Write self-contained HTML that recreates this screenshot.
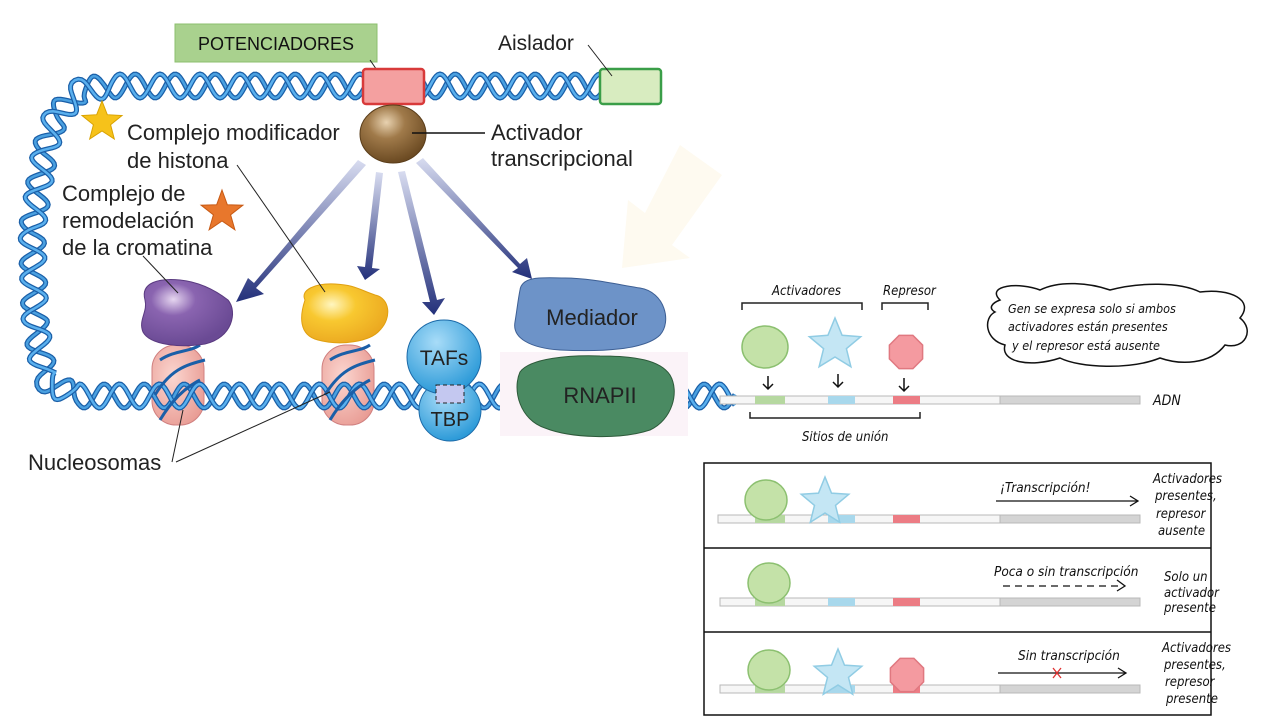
<!DOCTYPE html>
<html><head><meta charset="utf-8">
<style>
html,body{margin:0;padding:0;background:#fff;}
svg{display:block}
.lab{font-family:"Liberation Sans Narrow","Liberation Sans",sans-serif;fill:#222;}
.hw{font-family:"DejaVu Sans Condensed","DejaVu Sans",sans-serif;font-style:italic;fill:#111;}
</style></head><body>
<svg id="s" width="1280" height="720" viewBox="0 0 1280 720" xmlns="http://www.w3.org/2000/svg">
<defs>
<linearGradient id="ag" x1="0" y1="0" x2="0" y2="1"><stop offset="0" stop-color="#d8dcf0"/><stop offset="1" stop-color="#23307a"/></linearGradient>
<radialGradient id="brown" cx="0.4" cy="0.3" r="0.7"><stop offset="0" stop-color="#e8d2b0"/><stop offset="0.4" stop-color="#a07a4a"/><stop offset="1" stop-color="#6b4a22"/></radialGradient>
<radialGradient id="purple" cx="0.35" cy="0.3" r="0.7"><stop offset="0" stop-color="#e6d6f0"/><stop offset="0.35" stop-color="#8a64b0"/><stop offset="1" stop-color="#6a4a94"/></radialGradient>
<radialGradient id="yellow" cx="0.35" cy="0.35" r="0.7"><stop offset="0" stop-color="#fff6c0"/><stop offset="0.4" stop-color="#f8c830"/><stop offset="1" stop-color="#eba820"/></radialGradient>
<radialGradient id="blue" cx="0.4" cy="0.3" r="0.7"><stop offset="0" stop-color="#a8dcf8"/><stop offset="1" stop-color="#2c9ad8"/></radialGradient>
<radialGradient id="pink" cx="0.4" cy="0.4" r="0.7"><stop offset="0" stop-color="#fbd6d0"/><stop offset="1" stop-color="#e89a92"/></radialGradient>
</defs>
<polygon points="680,145 722,175 672,245 690,258 622,268 628,200 645,213" fill="#fefaf0"/>
<!-- nucleosomes -->
<rect x="152" y="345" width="52" height="80" rx="24" fill="url(#pink)" stroke="#d08080"/>
<rect x="322" y="345" width="52" height="80" rx="24" fill="url(#pink)" stroke="#d08080"/>
<g id="dna"></g>
<g stroke="#1a5fa8" stroke-width="3" fill="none">
<path d="M160,360 C175,350 190,352 200,345"/><path d="M155,395 C170,370 185,365 205,360"/><path d="M160,420 C175,395 190,385 200,380"/>
<path d="M330,360 C345,350 360,352 370,345"/><path d="M325,395 C340,370 355,365 375,360"/><path d="M330,420 C345,395 360,385 370,380"/>
</g>
<rect x="175" y="24" width="202" height="38" fill="#a9d18e" stroke="#8cbf6e"/>
<text x="276" y="50" text-anchor="middle" font-family="Liberation Sans,sans-serif" font-size="18" fill="#111">POTENCIADORES</text>
<line x1="370" y1="60" x2="383" y2="79" stroke="#222"/>
<rect x="363" y="69" width="61" height="35" rx="3" fill="#f4a0a0" stroke="#d83a3a" stroke-width="2.5"/>
<rect x="600" y="69" width="61" height="35" rx="3" fill="#d8ecc0" stroke="#3a9e48" stroke-width="2.5"/>
<text x="498" y="50" class="lab" font-size="21">Aislador</text>
<line x1="588" y1="45" x2="612" y2="76" stroke="#222"/>
<ellipse cx="393" cy="134" rx="33" ry="29" fill="url(#brown)" stroke="#5a3d1a"/>
<line x1="412" y1="133" x2="485" y2="133" stroke="#111" stroke-width="1.5"/>
<text x="491" y="140" class="lab" font-size="22">Activador</text>
<text x="491" y="166" class="lab" font-size="22">transcripcional</text>
<polygon id="ys" fill="#f6c21a" stroke="#d9a200" points=""/>
<polygon id="os" fill="#e8772c" stroke="#c85a14" points=""/>
<text x="127" y="140" class="lab" font-size="22">Complejo modificador</text>
<text x="127" y="168" class="lab" font-size="22">de histona</text>
<text x="62" y="201" class="lab" font-size="22">Complejo de</text>
<text x="62" y="228" class="lab" font-size="22">remodelación</text>
<text x="62" y="255" class="lab" font-size="22">de la cromatina</text>
<g fill="url(#ag)">
<polygon points="358,160 366,165 256,288 264,294 236,302 248,278 254,283"/>
<polygon points="376,172 383,173 372,268 380,269 365,280 357,266 365,267"/>
<polygon points="398,172 405,171 437,300 445,298 434,315 422,302 430,302"/>
<polygon points="416,163 423,158 520,264 527,258 532,279 512,272 518,268"/>
</g>
<path d="M145,300 C140,282 160,278 180,280 C200,282 215,290 228,300 C238,312 232,338 205,344 C180,348 150,345 143,332 C138,320 148,312 145,300Z" fill="url(#purple)" stroke="#5a3a80"/>
<path d="M305,300 C300,290 315,283 335,284 C355,285 360,290 375,295 C390,298 392,318 380,330 C370,342 340,346 318,340 C298,335 300,315 305,300Z" fill="url(#yellow)" stroke="#e0a010"/>
<path d="M520,290 C522,275 545,278 565,278 C590,278 620,285 640,288 C665,292 672,322 660,335 C645,350 600,352 560,350 C530,348 512,338 515,322 C517,310 518,300 520,290Z" fill="#6d93c8" stroke="#3d5f94"/>
<text x="592" y="325" text-anchor="middle" class="lab" font-size="22">Mediador</text>
<rect x="500" y="352" width="188" height="84" fill="#fbf3f8"/>
<path d="M520,372 C530,358 570,355 600,356 C635,356 660,360 670,375 C680,392 672,420 650,430 C620,440 570,438 545,428 C520,420 512,390 520,372Z" fill="#4a8a62" stroke="#2d5a3a"/>
<text x="600" y="403" text-anchor="middle" class="lab" font-size="22">RNAPII</text>
<circle cx="450" cy="410" r="31" fill="url(#blue)" stroke="#1c6aa8"/>
<circle cx="444" cy="357" r="37" fill="url(#blue)" stroke="#1c6aa8"/>
<rect x="436" y="385" width="28" height="18" fill="#c4c8f0" stroke="#222" stroke-dasharray="4,3"/>
<text x="444" y="365" text-anchor="middle" class="lab" font-size="21">TAFs</text>
<text x="450" y="426" text-anchor="middle" class="lab" font-size="20">TBP</text>
<line x1="237" y1="165" x2="325" y2="292" stroke="#222"/>
<line x1="143" y1="256" x2="178" y2="293" stroke="#222"/>
<line x1="172" y1="462" x2="183" y2="410" stroke="#222"/>
<line x1="176" y1="462" x2="330" y2="392" stroke="#222"/>
<text x="28" y="470" class="lab" font-size="22">Nucleosomas</text>
<g id="right"></g>
</svg>
<script>
function star(cx,cy,R,r){let p=[];for(let i=0;i<10;i++){let a=-Math.PI/2+i*Math.PI/5,rr=i%2?r:R;p.push((cx+rr*Math.cos(a)).toFixed(1)+","+(cy+rr*Math.sin(a)).toFixed(1));}return p.join(" ");}
document.getElementById('ys').setAttribute('points',star(102,122,21,9));
document.getElementById('os').setAttribute('points',star(222,212,22,9));
const ctrl=[[610,86],[110,86],[80,90],[55,118],[45,150],[32,230],[35,320],[45,380],[75,396],[735,396]];
let pts=[];
for(let i=0;i<ctrl.length-1;i++){let [x1,y1]=ctrl[i],[x2,y2]=ctrl[i+1];let d=Math.hypot(x2-x1,y2-y1),n=Math.ceil(d/2);for(let j=0;j<n;j++){pts.push([x1+(x2-x1)*j/n,y1+(y2-y1)*j/n]);}}
pts.push(ctrl[ctrl.length-1]);
for(let k=0;k<6;k++){pts=pts.map((p,i)=>i==0||i==pts.length-1?p:[(pts[i-1][0]+p[0]*2+pts[i+1][0])/4,(pts[i-1][1]+p[1]*2+pts[i+1][1])/4]);}
let s=0,A=12,per=40;let a1="",a2="";
for(let i=0;i<pts.length;i++){let j=Math.min(i+1,pts.length-1),h=Math.max(i-1,0);let dx=pts[j][0]-pts[h][0],dy=pts[j][1]-pts[h][1],L=Math.hypot(dx,dy)||1;let nx=-dy/L,ny=dx/L;if(i>0)s+=Math.hypot(pts[i][0]-pts[i-1][0],pts[i][1]-pts[i-1][1]);
let o1=A*Math.sin(s*2*Math.PI/per),o2=A*Math.sin(s*2*Math.PI/per+2.4);
a1+=(i?"L":"M")+(pts[i][0]+nx*o1).toFixed(1)+","+(pts[i][1]+ny*o1).toFixed(1);
a2+=(i?"L":"M")+(pts[i][0]+nx*o2).toFixed(1)+","+(pts[i][1]+ny*o2).toFixed(1);}
document.getElementById('dna').innerHTML=`<path d="${a2}" fill="none" stroke="#1a5fa8" stroke-width="5"/><path d="${a2}" fill="none" stroke="#4aa0e0" stroke-width="2.5"/><path d="${a1}" fill="none" stroke="#1a5fa8" stroke-width="5"/><path d="${a1}" fill="none" stroke="#5ab0ee" stroke-width="2.5"/>`;
function oct(cx,cy,r){let p=[];for(let i=0;i<8;i++){let a=Math.PI/8+i*Math.PI/4;p.push((cx+r*Math.cos(a)).toFixed(1)+","+(cy+r*Math.sin(a)).toFixed(1));}return p.join(" ");}
function bar(y,x0){x0=x0||720;return `<rect x="${x0}" y="${y}" width="${1000-x0}" height="8" fill="#f6f6f6" stroke="#b8b8b8"/><rect x="1000" y="${y}" width="140" height="8" fill="#d4d4d4" stroke="#b8b8b8"/>`+
`<rect x="755" y="${y}" width="30" height="8" fill="#b6d8a0"/><rect x="828" y="${y}" width="27" height="8" fill="#a8d8ec"/><rect x="893" y="${y}" width="27" height="8" fill="#ec7c84"/>`;}
const G="fill='#c4e2a8' stroke='#8cc070' stroke-width='1.5'",B="fill='#c4e6f4' stroke='#90cce4' stroke-width='1.5'",R="fill='#f49aa0' stroke='#e07880' stroke-width='1.5'";
let h="";
h+=`<text x="772" y="295" class="hw" font-size="13">Activadores</text><path d="M742,310 V303 H862 V310" fill="none" stroke="#222" stroke-width="1.5"/>`;
h+=`<text x="883" y="295" class="hw" font-size="13">Represor</text><path d="M882,310 V303 H928 V310" fill="none" stroke="#222" stroke-width="1.5"/>`;
h+=`<ellipse cx="765" cy="347" rx="23" ry="21" ${G}/><polygon points="${star(835,345,27,12)}" ${B}/><polygon points="${oct(906,352,18)}" ${R}/>`;
h+=`<g stroke="#111" stroke-width="1.5" fill="none"><path d="M768,376V389M763,384L768,389L773,384"/><path d="M838,374V387M833,382L838,387L843,382"/><path d="M904,378V391M899,386L904,391L909,386"/></g>`;
h+=bar(396);
h+=`<text x="1153" y="405" class="hw" font-size="14">ADN</text>`;
h+=`<path d="M750,412V418H920V412" fill="none" stroke="#222" stroke-width="1.5"/><text x="802" y="441" class="hw" font-size="13">Sitios de unión</text>`;
h+=`<path d="M1000,300 C985,285 1020,282 1040,290 C1060,280 1090,283 1110,290 C1140,282 1180,282 1200,292 C1230,288 1255,300 1240,318 C1255,330 1245,350 1225,345 C1210,365 1180,365 1160,358 C1130,370 1080,368 1060,358 C1030,368 1000,362 1005,345 C985,340 983,318 995,312 C988,308 992,303 1000,300Z" fill="#fff" stroke="#111" stroke-width="1.5"/>`;
h+=`<text x="1008" y="313" class="hw" font-size="12.5">Gen se expresa solo si ambos</text><text x="1008" y="331" class="hw" font-size="12.5">activadores están presentes</text><text x="1012" y="350" class="hw" font-size="12.5">y el represor está ausente</text>`;
h+=`<rect x="704" y="463" width="507" height="252" fill="none" stroke="#111" stroke-width="1.5"/><line x1="704" y1="548" x2="1211" y2="548" stroke="#111" stroke-width="1.5"/><line x1="704" y1="632" x2="1211" y2="632" stroke="#111" stroke-width="1.5"/>`;
h+=bar(515,718)+`<ellipse cx="766" cy="500" rx="21" ry="20" ${G}/><polygon points="${star(825,502,25,11)}" ${B}/>`;
h+=`<text x="1000" y="492" class="hw" font-size="13.5">¡Transcripción!</text><path d="M996,501H1138M1130,496L1138,501L1130,506" fill="none" stroke="#111" stroke-width="1.3"/>`;
h+=`<text x="1153" y="483" class="hw" font-size="13">Activadores</text><text x="1155" y="500" class="hw" font-size="13">presentes,</text><text x="1156" y="518" class="hw" font-size="13">represor</text><text x="1158" y="535" class="hw" font-size="13">ausente</text>`;
h+=bar(598)+`<ellipse cx="769" cy="583" rx="21" ry="20" ${G}/>`;
h+=`<text x="994" y="576" class="hw" font-size="13.5">Poca o sin transcripción</text><path d="M1003,586H1123" fill="none" stroke="#111" stroke-width="1.3" stroke-dasharray="7,5"/><path d="M1117,580L1125,586L1117,591" fill="none" stroke="#111" stroke-width="1.3"/>`;
h+=`<text x="1164" y="581" class="hw" font-size="13">Solo un</text><text x="1164" y="597" class="hw" font-size="13">activador</text><text x="1164" y="612" class="hw" font-size="13">presente</text>`;
h+=bar(685)+`<ellipse cx="769" cy="670" rx="21" ry="20" ${G}/><polygon points="${star(838,674,25,11)}" ${B}/><polygon points="${oct(907,675,18)}" ${R}/>`;
h+=`<text x="1018" y="660" class="hw" font-size="13.5">Sin transcripción</text><path d="M998,673H1126M1118,668L1126,673L1118,678" fill="none" stroke="#111" stroke-width="1.3"/><path d="M1053,668L1061,678M1061,668L1053,678" stroke="#e03030" stroke-width="1.3"/>`;
h+=`<text x="1162" y="652" class="hw" font-size="13">Activadores</text><text x="1164" y="669" class="hw" font-size="13">presentes,</text><text x="1165" y="686" class="hw" font-size="13">represor</text><text x="1166" y="703" class="hw" font-size="13">presente</text>`;
document.getElementById('right').innerHTML=h;
</script>
</body></html>
